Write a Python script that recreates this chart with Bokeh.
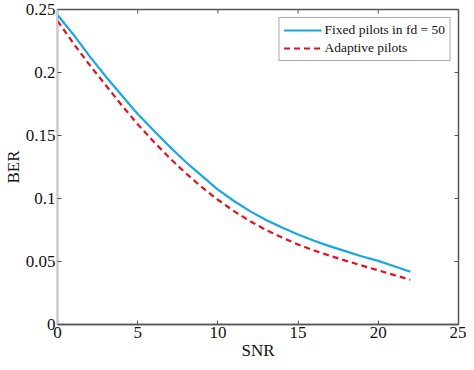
import math
from bokeh.plotting import figure
from bokeh.models import Range1d, Legend, LegendItem, FixedTicker
from bokeh.embed import file_html
from bokeh.resources import INLINE

snr = list(range(0, 23))
ber_fixed = [0.2456, 0.230, 0.213, 0.197, 0.182, 0.167, 0.154, 0.141, 0.129, 0.118,
             0.107, 0.098, 0.090, 0.083, 0.077, 0.0715, 0.0665, 0.062, 0.058, 0.054,
             0.0505, 0.0462, 0.0418]
ber_adaptive = [0.241, 0.223, 0.206, 0.190, 0.174, 0.159, 0.145, 0.132, 0.120, 0.109,
                0.099, 0.090, 0.082, 0.075, 0.069, 0.0635, 0.0587, 0.0545, 0.0505, 0.0467,
                0.0430, 0.0392, 0.0355]
x_ticks = [0, 5, 10, 15, 20, 25]
y_ticks = [0, 0.05, 0.1, 0.15, 0.2, 0.25]
y_tick_labels = {0: "0", 0.05: "0.05", 0.1: "0.1", 0.15: "0.15", 0.2: "0.2", 0.25: "0.25"}
x_min, x_max = 0, 25
y_min, y_max = 0, 0.25

FONT = "Liberation Serif"
DARK = "#555555"

p = figure(width=466, height=362, output_backend="svg", toolbar_location=None,
           x_range=Range1d(x_min, x_max), y_range=Range1d(y_min, y_max),
           min_border_left=40, min_border_right=8, min_border_top=9, min_border_bottom=34)
p.grid.visible = False
p.outline_line_color = DARK
p.outline_line_width = 1.5
p.background_fill_color = "white"
p.border_fill_color = "white"

l1 = p.line(snr, ber_fixed, line_color="#1aa7e0", line_width=2.2)
l2 = p.line(snr, ber_adaptive, line_color="#e3101e", line_width=2.2, line_dash="6 4")

# inward ticks on the top and right edges of the box (outer halves are clipped by the frame)
p.scatter(x_ticks, [y_max] * len(x_ticks), marker="dash", size=8, angle=math.pi / 2,
          line_color=DARK, line_width=1)
p.scatter([x_max] * len(y_ticks), y_ticks, marker="dash", size=8,
          line_color=DARK, line_width=1)

for ax in p.xaxis:
    ax.ticker = FixedTicker(ticks=x_ticks)
    ax.axis_label = "SNR"
    ax.axis_line_color = DARK
    ax.axis_line_width = 1.5
    ax.major_tick_in = 4
    ax.major_tick_out = 0
    ax.major_tick_line_color = DARK
    ax.minor_tick_line_color = None
    ax.major_label_text_font = FONT
    ax.major_label_text_font_size = "17px"
    ax.major_label_text_color = "#111111"
    ax.major_label_standoff = 2
    ax.axis_label_text_font = FONT
    ax.axis_label_text_font_size = "17px"
    ax.axis_label_text_font_style = "normal"
    ax.axis_label_text_color = "#111111"
    ax.axis_label_standoff = 0

for ax in p.yaxis:
    ax.ticker = FixedTicker(ticks=y_ticks)
    ax.major_label_overrides = y_tick_labels
    ax.axis_label = "BER"
    ax.axis_line_color = "#cfcfcf"
    ax.axis_line_width = 1.2
    ax.major_tick_in = 4
    ax.major_tick_out = 0
    ax.major_tick_line_color = DARK
    ax.minor_tick_line_color = None
    ax.major_label_text_font = FONT
    ax.major_label_text_font_size = "17px"
    ax.major_label_text_color = "#111111"
    ax.major_label_standoff = 2
    ax.axis_label_text_font = FONT
    ax.axis_label_text_font_size = "17px"
    ax.axis_label_text_font_style = "normal"
    ax.axis_label_text_color = "#111111"
    ax.axis_label_standoff = 0

legend = Legend(items=[LegendItem(label="Fixed pilots in fd = 50", renderers=[l1]),
                       LegendItem(label="Adaptive pilots", renderers=[l2])],
                location="top_right")
legend.label_text_font = FONT
legend.label_text_font_size = "13.5px"
legend.label_text_color = "#111111"
legend.border_line_color = DARK
legend.border_line_width = 1
legend.background_fill_alpha = 1
legend.glyph_width = 38
legend.glyph_height = 16
legend.label_standoff = 3
legend.spacing = 2
legend.padding = 4
legend.margin = 8
legend.label_height = 16
p.add_layout(legend)

open("out.html", "w").write(file_html(p, INLINE))
